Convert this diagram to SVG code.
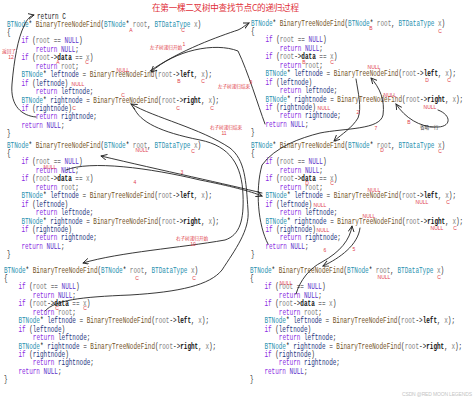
<svg xmlns="http://www.w3.org/2000/svg" xmlns:xlink="http://www.w3.org/1999/xlink" width="474" height="418" viewBox="0 0 474 418">
<style>
.code text{font-family:"Liberation Mono","DejaVu Sans Mono",monospace;font-size:8.2px;fill:#1e1e1e;white-space:pre}
.t{fill:#2b91af}.f{fill:#74531f}.p{fill:#808080}.k{fill:#8a2be2}.n{fill:#5b2fc9}.v{fill:#1f377f}.b{font-weight:bold;fill:#111}
.r{font-family:"Liberation Sans",Arial,sans-serif;font-size:5px;fill:#e0404a;text-anchor:middle}
.rc{font-family:"Noto Sans CJK SC",sans-serif;font-size:4.6px;fill:#e0404a;text-anchor:middle}
.c{fill:none;stroke:#222;stroke-width:0.9;stroke-linecap:round}
.a{marker-end:url(#arr)}
</style>
<defs>
<marker id="arr" markerUnits="userSpaceOnUse" markerWidth="8" markerHeight="8" refX="6" refY="3" orient="auto">
<path d="M0,0 L6,3 L0,6" fill="none" stroke="#222" stroke-width="0.9"/>
</marker>
<g id="code" class="code" transform="scale(0.732,1)">
<text y="0"><tspan class="t">BTNode</tspan>* <tspan class="f">BinaryTreeNodeFind</tspan>(<tspan class="t">BTNode</tspan>* <tspan class="p">root</tspan>, <tspan class="t">BTDataType</tspan> <tspan class="p">x</tspan>)</text>
<text y="8.45">{</text>
<text y="16.9" x="19.68"><tspan class="k">if</tspan> (<tspan class="p">root</tspan> == <tspan class="n">NULL</tspan>)</text>
<text y="25.35" x="39.36"><tspan class="k">return</tspan> <tspan class="n">NULL</tspan>;</text>
<text y="33.8" x="19.68"><tspan class="k">if</tspan> (<tspan class="p">root</tspan>-&gt;<tspan class="b">data</tspan> == <tspan class="p">x</tspan>)</text>
<text y="42.25" x="39.36"><tspan class="k">return</tspan> <tspan class="p">root</tspan>;</text>
<text y="50.7" x="19.68"><tspan class="t">BTNode</tspan>* <tspan class="v">leftnode</tspan> = <tspan class="f">BinaryTreeNodeFind</tspan>(<tspan class="p">root</tspan>-&gt;<tspan class="b">left</tspan>, <tspan class="p">x</tspan>);</text>
<text y="59.15" x="19.68"><tspan class="k">if</tspan> (<tspan class="v">leftnode</tspan>)</text>
<text y="67.6" x="39.36"><tspan class="k">return</tspan> <tspan class="v">leftnode</tspan>;</text>
<text y="76.05" x="19.68"><tspan class="t">BTNode</tspan>* <tspan class="v">rightnode</tspan> = <tspan class="f">BinaryTreeNodeFind</tspan>(<tspan class="p">root</tspan>-&gt;<tspan class="b">right</tspan>, <tspan class="p">x</tspan>);</text>
<text y="84.5" x="19.68"><tspan class="k">if</tspan> (<tspan class="v">rightnode</tspan>)</text>
<text y="92.95" x="39.36"><tspan class="k">return</tspan> <tspan class="v">rightnode</tspan>;</text>
<text y="101.4" x="19.68"><tspan class="k">return</tspan> <tspan class="n">NULL</tspan>;</text>
<text y="109.85">}</text>
</g>
</defs>
<rect width="474" height="418" fill="#ffffff"/>
<text x="152" y="11" textLength="147" style="font-family:'Noto Sans CJK SC',sans-serif;font-size:8.6px;fill:#e0303a">在第一棵二叉树中查找节点C的递归过程</text>

<g id="block1">
<use href="#code" transform="translate(7,26.5)"/>
<g class="code" transform="translate(37,18.5) scale(0.732,1)"><text>return C</text></g>
<text class="r" x="131" y="32">A</text><text class="r" x="183" y="32">C</text>
<text class="r" x="58" y="64">A</text><text class="r" x="87" y="64">C</text>
<text class="r" x="123" y="71.5">NULL</text><text class="r" x="78" y="85.5">NULL</text>
<text class="r" x="179" y="83">B</text><text class="r" x="203" y="83">C</text>
<text class="r" x="123" y="97">C</text><text class="r" x="74" y="110">C</text>
<text class="r" x="178" y="110">C</text><text class="r" x="212" y="110">C</text>
</g>

<g id="block2">
<use href="#code" transform="translate(251,25.5)"/>
<text class="r" x="371" y="30">B</text><text class="r" x="440" y="33">C</text>
<text class="r" x="304" y="64">B</text><text class="r" x="332" y="64">C</text>
<text class="r" x="374" y="69">NULL</text>
<text class="r" x="427" y="82">D</text><text class="r" x="449" y="82">C</text>
<text class="r" x="390" y="97">NULL</text><text class="r" x="430" y="109">NULL</text>
<text class="r" x="324" y="110">NULL</text>
<text class="r" x="409" y="124">B</text>
<text x="420" y="129" style="font-family:'Noto Sans CJK SC',sans-serif;font-size:4.6px;fill:#333">省略一行</text>
</g>

<g id="block3">
<use href="#code" transform="translate(7,147.5)"/>
<text class="r" x="142" y="152">NULL</text><text class="r" x="193" y="153">C</text>
<text class="r" x="50" y="168.5">NULL</text>
</g>

<g id="block4">
<use href="#code" transform="translate(251,147.5)"/>
<text class="r" x="382" y="152">D</text><text class="r" x="440" y="153">C</text>
<text class="r" x="307" y="185">D</text><text class="r" x="332" y="185">C</text>
<text class="r" x="374" y="192">NULL</text>
<text class="r" x="422" y="204">NULL</text><text class="r" x="448" y="204">C</text>
<text class="r" x="320" y="207">NULL</text>
<text class="r" x="369" y="218">NULL</text>
<text class="r" x="437" y="230">NULL</text><text class="r" x="455" y="230">C</text>
<text class="r" x="323" y="232">NULL</text>
</g>

<g id="block5">
<use href="#code" transform="translate(4,272.5)"/>
<text class="r" x="137" y="280">C</text><text class="r" x="194" y="280">C</text>
<text class="r" x="57" y="310">C</text><text class="r" x="85" y="310">C</text>
</g>

<g id="block6">
<use href="#code" transform="translate(250,272.5)"/>
<text class="r" x="286" y="285">NULL</text>
<text class="r" x="384" y="279">NULL</text><text class="r" x="439" y="279">C</text>
</g>

<g id="connectors">
<path class="c a" d="M36 117 C22 116 10 106 12 84 C14 60 18 38 24 26 C27 19 30 16 34 15"/>
<path class="c a" d="M150 71 C180 50 220 36 238 30 C243 28 245 25 249 23"/>
<path class="c a" d="M265 124 C258 105 248 72 238 51 C215 42 175 50 151 72"/>
<path class="c a" d="M356 79 C358 92 362 108 358 118 C352 128 342 134 334 141"/>
<path class="c a" d="M268 244 C258 225 255 190 262 165 C275 147 300 138 320 133 C345 128 380 130 383 115 C385 100 380 88 371 78"/>
<path class="c a" d="M438 110 C452 115 452 128 435 127 C420 127 405 118 396 104"/>
<path class="c a" d="M262 193 C230 185 160 170 101 156"/>
<path class="c a" d="M66 170 C90 160 150 168 200 180 C230 186 250 191 262 196"/>
<path class="c a" d="M360 228 C358 245 340 258 323 266"/>
<path class="c a" d="M296 294 C300 280 310 268 322 262 C340 252 350 240 352 226"/>
<path class="c a" d="M134 108 C140 122 160 132 200 140 C230 146 242 165 243 195 C244 220 240 235 225 240 C180 248 120 252 83 263"/>
<path class="c a" d="M45 311 C55 300 80 297 130 295 C180 292 210 285 222 270 C235 250 250 230 248 210 C246 180 245 160 230 148 C200 128 155 118 131 104"/>
</g>

<g id="labels">
<text class="rc" x="166" y="49">左子树递归开始</text><text class="r" x="184" y="46">1</text>
<text class="rc" x="234" y="88">左子树递归结束</text><text class="r" x="251" y="84">9</text>
<text class="rc" x="226" y="129">右子树递归结束</text><text class="r" x="224" y="135">11</text>
<text class="rc" x="192" y="240">右子树递归开始</text><text class="r" x="193" y="246">10</text>
<text class="rc" x="9" y="53">返回了</text><text class="r" x="11" y="59">12</text>
<text class="r" x="358" y="114">2</text><text class="r" x="376" y="130">7</text>
<text class="r" x="182" y="174">3</text><text class="r" x="135" y="184">4</text>
<text class="r" x="354" y="251">5</text><text class="r" x="325" y="252">6</text>
</g>
<text x="402" y="396" textLength="70" style="font-family:'Liberation Sans',sans-serif;font-size:5px;fill:#c4c4c4">CSDN @RED MOON LEGENDS</text>
</svg>
